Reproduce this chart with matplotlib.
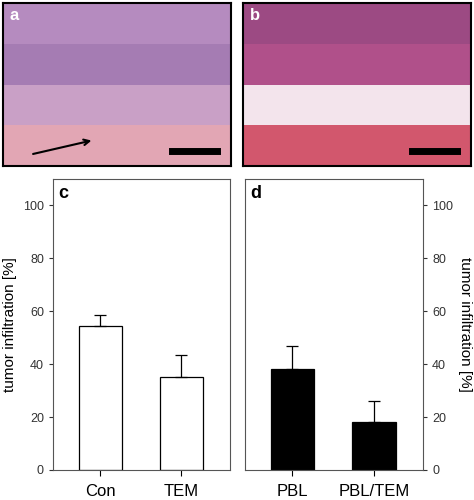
import numpy as np
import matplotlib.pyplot as plt
from matplotlib.patches import Rectangle

groups_c = ["Con", "TEM"]
vals_c = [54.5, 35.0]
errs_c = [4.0, 8.5]
groups_d = ["PBL", "PBL/TEM"]
vals_d = [38.0, 18.0]
errs_d = [9.0, 8.0]

W, H = 474, 500
fig = plt.figure(figsize=(W/100, H/100), dpi=100)
plt.rcParams['font.family'] = 'Liberation Sans'

def fx(x0, y0, w, h):
    return [x0/W, 1-(y0+h)/H, w/W, h/H]

# histology placeholders
axa = fig.add_axes(fx(3, 3, 228, 163))
axb = fig.add_axes(fx(243, 3, 228, 163))
for ax, cols in [(axa, ["#b58bbf", "#a57cb3", "#c9a0c6", "#e2a6b4"]),
                 (axb, ["#9c4a83", "#b0508a", "#f3e4ec", "#d2576d"])]:
    ax.set_xlim(0, 1); ax.set_ylim(0, 1)
    n = len(cols)
    for i, c in enumerate(cols):
        ax.add_patch(Rectangle((0, 1 - (i+1)/n), 1, 1/n, color=c, lw=0))
    ax.set_xticks([]); ax.set_yticks([])
    for s in ax.spines.values():
        s.set_linewidth(1.5)
axa.plot([0.74, 0.94], [0.09, 0.09], color="black", lw=5)
axb.plot([0.74, 0.94], [0.09, 0.09], color="black", lw=5)
axa.annotate("", xy=(0.4, 0.16), xytext=(0.12, 0.07),
             arrowprops=dict(arrowstyle="->", lw=1.5, color="black"))
axa.text(0.03, 0.97, "a", transform=axa.transAxes, fontsize=12, fontweight="bold",
         color="white", va="top")
axb.text(0.03, 0.97, "b", transform=axb.transAxes, fontsize=12, fontweight="bold",
         color="white", va="top")

axc = fig.add_axes(fx(53, 179, 177, 291))
axd = fig.add_axes(fx(245, 179, 178, 291))
for ax, g, v, e, col, lab in [(axc, groups_c, vals_c, errs_c, "white", "c"),
                              (axd, groups_d, vals_d, errs_d, "black", "d")]:
    x = np.arange(len(g))
    ax.bar(x, v, width=0.53, color=col, edgecolor="black", lw=0.9)
    ax.errorbar(x, v, yerr=[np.zeros(len(e)), e], fmt="none", ecolor="black",
                elinewidth=0.9, capsize=4, capthick=0.9)
    ax.set_xlim(-0.58, 1.6)
    ax.set_ylim(0, 110)
    ax.set_xticks(x)
    ax.set_xticklabels(g, fontsize=12)
    ax.set_yticks(range(0, 101, 20))
    ax.tick_params(axis="y", labelsize=9, colors="#333333", direction="out", length=3)
    ax.tick_params(axis="x", length=4, pad=6)
    ax.text(0.03, 0.98, lab, transform=ax.transAxes, fontsize=13, fontweight="bold",
            va="top")
    for s in ax.spines.values():
        s.set_color("#555555")
axc.set_ylabel("tumor infiltration [%]", fontsize=11)
axd.yaxis.tick_right()
axd.yaxis.set_label_position("right")
axd.set_ylabel("tumor infiltration [%]", fontsize=11, rotation=270, labelpad=14)

fig.savefig("out.png", dpi=100)
